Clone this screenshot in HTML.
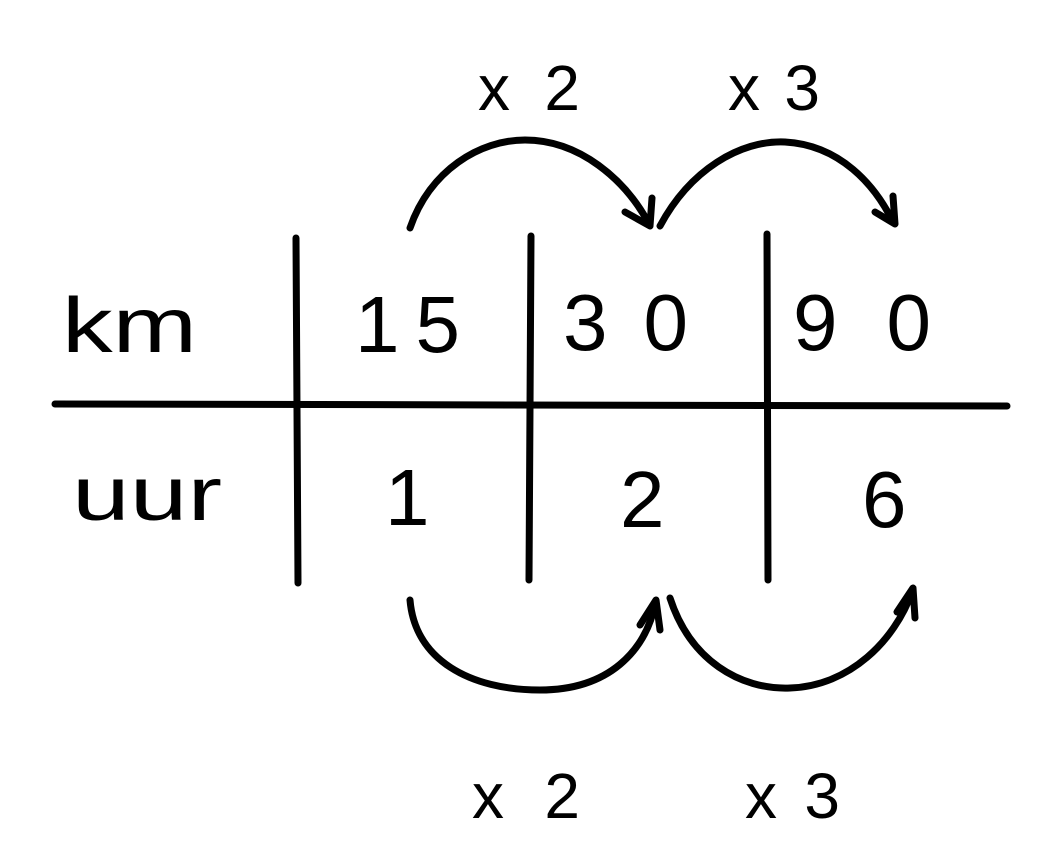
<!DOCTYPE html>
<html><head><meta charset="utf-8"><style>
html,body{margin:0;padding:0;background:#fff;}
svg{display:block}
text{font-family:"Liberation Sans",sans-serif;fill:#000;}
</style></head><body>
<svg width="1057" height="861" viewBox="0 0 1057 861" xmlns="http://www.w3.org/2000/svg">
<g stroke="#000" stroke-width="7" fill="none" stroke-linecap="round" stroke-linejoin="round">
<path d="M55 404 L1007 406"/>
<path d="M296 238 L298 583"/>
<path d="M531 236 L529 580"/>
<path d="M767 234 L768 580"/>
<!-- top arcs -->
<path d="M410 228 C430 170 480 140 525 140 C580 140 625 180 648 222"/>
<path d="M625 212 L650 226 L652 198"/>
<path d="M660 226 C690 170 740 140 785 142 C840 145 875 185 893 222"/>
<path d="M875 212 L895 224 L893 196"/>
<!-- bottom arcs -->
<path d="M410 600 C415 660 470 690 540 690 C610 690 645 650 655 605"/>
<path d="M640 625 L656 600 L660 630"/>
<path d="M670 598 C690 660 740 690 790 688 C850 686 895 640 912 592"/>
<path d="M897 612 L913 588 L915 618"/>
</g>
<g font-size="80">
<text x="62" y="352" font-size="78" textLength="135" lengthAdjust="spacingAndGlyphs">km</text>
<text x="355" y="352" textLength="105" lengthAdjust="spacing">15</text>
<text x="563" y="350" textLength="125" lengthAdjust="spacing">30</text>
<text x="793" y="350" textLength="138" lengthAdjust="spacing">90</text>
<text x="72" y="520" font-size="76" textLength="150" lengthAdjust="spacingAndGlyphs">uur</text>
<text x="385" y="525">1</text>
<text x="620" y="527">2</text>
<text x="862" y="527">6</text>
<text x="478" y="110" font-size="64" textLength="102" lengthAdjust="spacing">x2</text>
<text x="728" y="110" font-size="64" textLength="92" lengthAdjust="spacing">x3</text>
<text x="472" y="818" font-size="64" textLength="108" lengthAdjust="spacing">x2</text>
<text x="745" y="818" font-size="64" textLength="95" lengthAdjust="spacing">x3</text>
</g>
</svg>
</body></html>
